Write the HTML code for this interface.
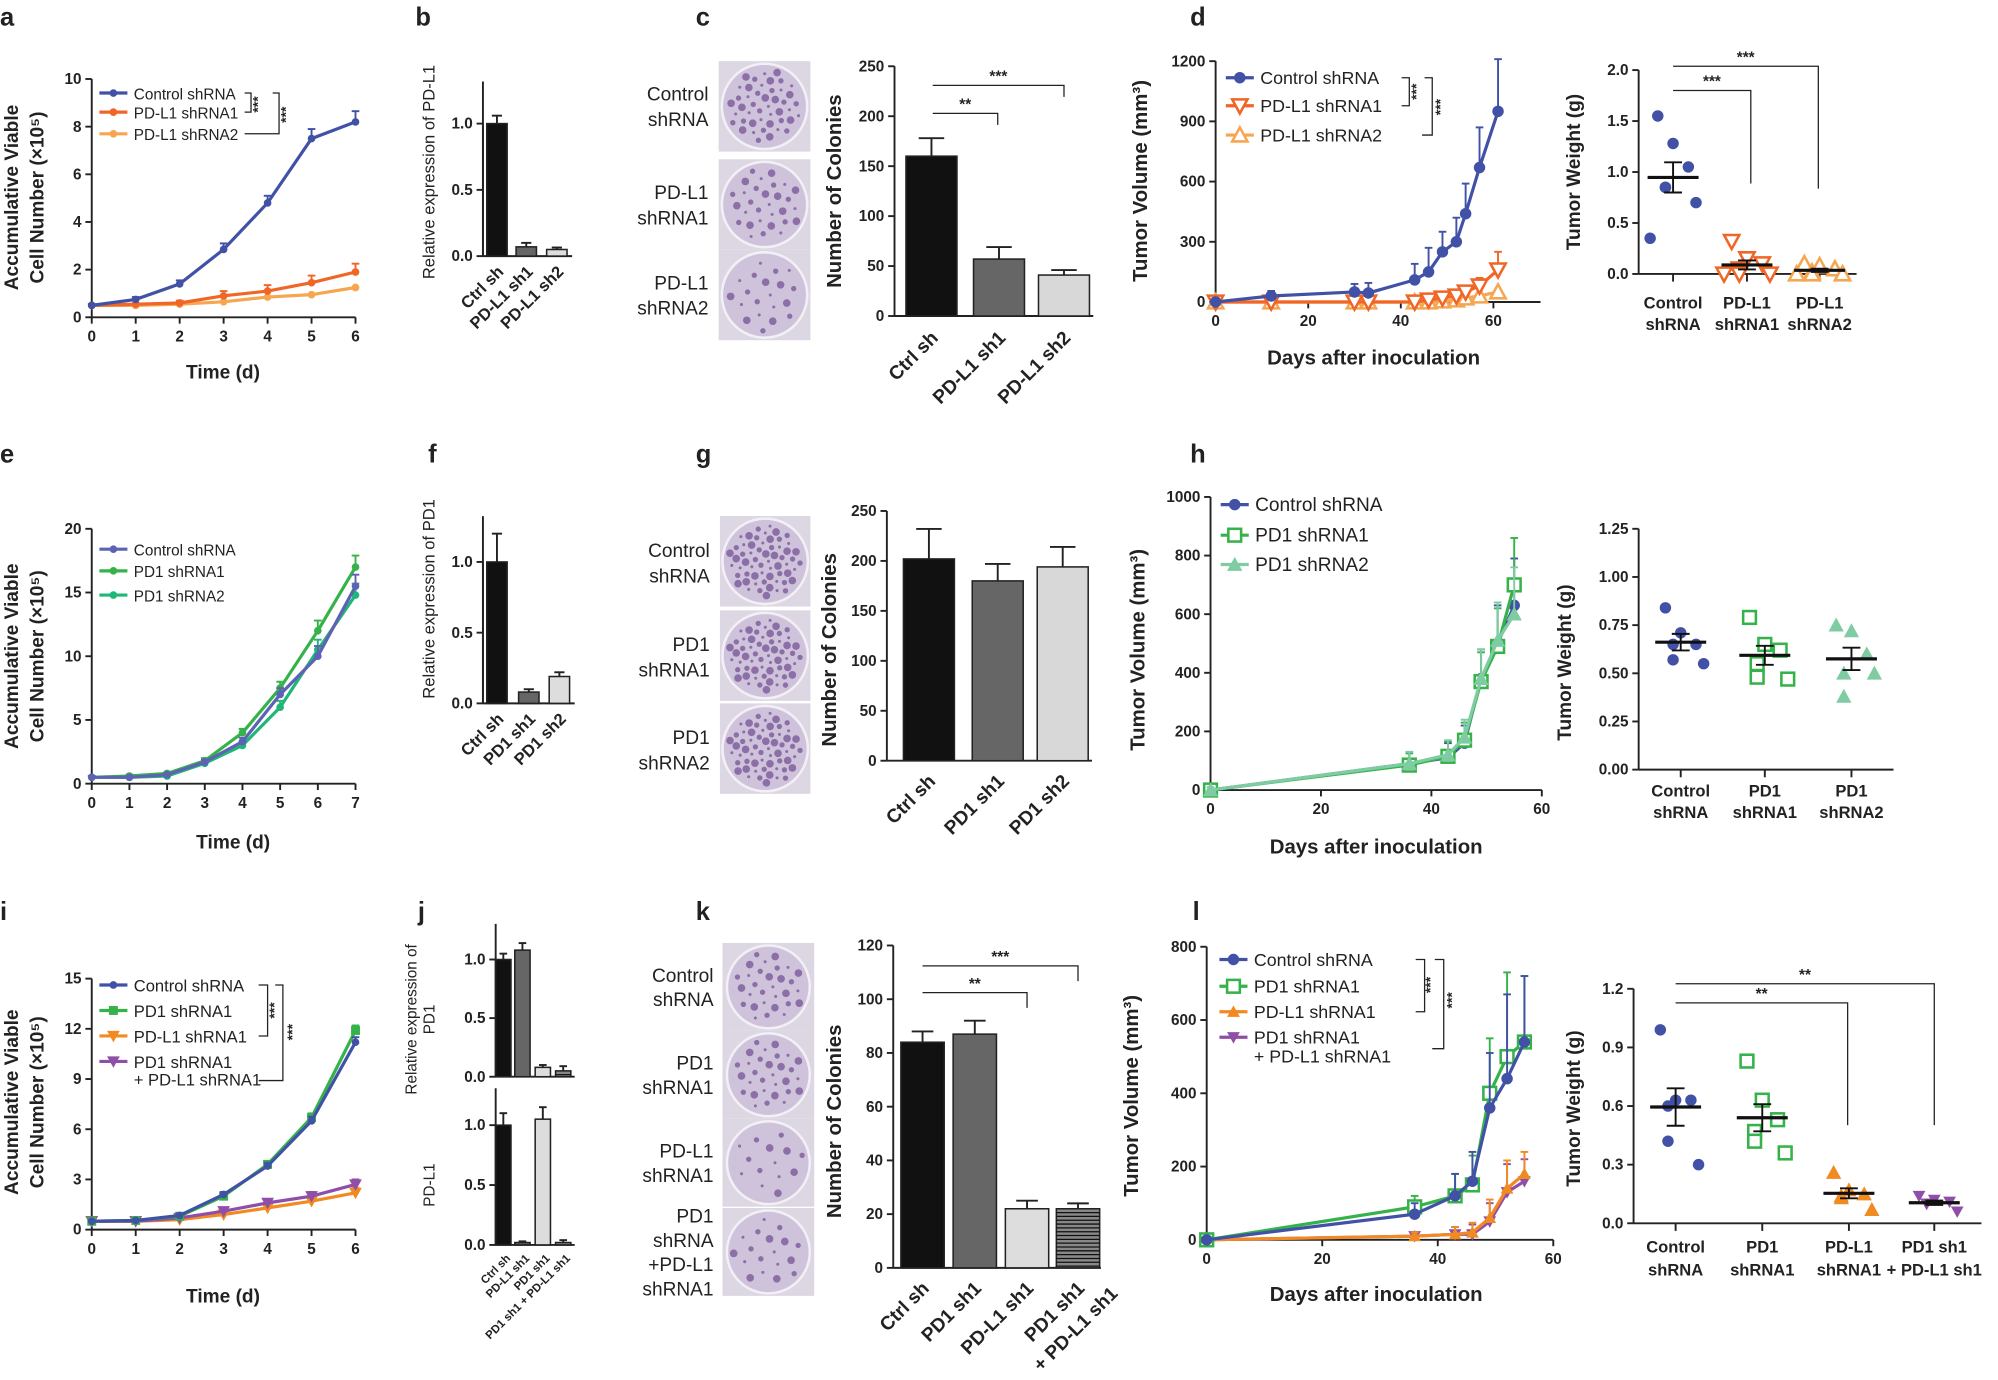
<!DOCTYPE html>
<html><head><meta charset="utf-8"><style>
html,body{margin:0;padding:0;background:#fff;}
svg{display:block;font-family:"Liberation Sans",Arial,sans-serif;}
</style></head><body>
<svg id="fig" width="1998" height="1380" viewBox="0 0 1568 1083" preserveAspectRatio="none" xmlns="http://www.w3.org/2000/svg"></svg>
<script>
// ---------- DATA ----------
const aDays=[0,1,2,3,4,5,6];
const aCtrl=[0.5,0.75,1.4,2.85,4.8,7.5,8.2];
const aCtrlErr=[0.05,0.1,0.15,0.25,0.3,0.4,0.45];
const aSh1=[0.5,0.55,0.6,0.9,1.1,1.45,1.9];
const aSh1Err=[0.05,0.05,0.1,0.2,0.25,0.3,0.35];
const aSh2=[0.5,0.5,0.55,0.65,0.85,0.95,1.25];
const bCats=["Ctrl sh","PD-L1 sh1","PD-L1 sh2"];
const bVals=[1.0,0.07,0.05];
const bErr=[0.06,0.03,0.015];
const cCats=["Ctrl sh","PD-L1 sh1","PD-L1 sh2"];
const cVals=[160,57,41];
const cErr=[18,12,5];
const dDays=[0,12,30,33,43,46,49,52,54,57,61];
const dCtrl=[0,30,50,45,110,150,250,300,440,670,950];
const dCtrlErr=[20,25,40,50,80,120,100,120,150,200,260];
const dSh1=[0,0,0,0,0,10,20,30,50,80,160];
const dSh1Err=[5,5,5,5,5,10,15,20,30,40,90];
const dSh2=[0,0,0,0,0,0,5,10,20,30,50];
const dWCats=[["Control","shRNA"],["PD-L1","shRNA1"],["PD-L1","shRNA2"]];
const dWCtrl=[1.55,1.28,1.05,0.85,0.85,0.7,0.35];
const dWSh1=[0.32,0.15,0.1,0.05,0,0,0];
const dWSh2=[0.1,0.08,0.05,0.02,0,0,0];
const eDays=[0,1,2,3,4,5,6,7];
const eCtrl=[0.5,0.5,0.7,1.7,3.3,7.0,10.0,15.5];
const eSh1=[0.5,0.6,0.8,1.8,4.0,7.5,12.0,17.0];
const eSh2=[0.5,0.5,0.6,1.6,3.0,6.0,10.5,14.8];
const fCats=["Ctrl sh","PD1 sh1","PD1 sh2"];
const fVals=[1.0,0.08,0.19];
const fErr=[0.2,0.02,0.03];
const gCats=["Ctrl sh","PD1 sh1","PD1 sh2"];
const gVals=[202,180,194];
const gErr=[30,17,20];
const hDays=[0,36,43,46,49,52,55];
const hCtrl=[0,90,110,160,380,500,630];
const hSh1=[0,85,115,170,370,490,700];
const hSh2=[0,90,120,180,380,510,600];
const hErr=[10,40,50,60,100,130,160];
const hWCats=[["Control","shRNA"],["PD1","shRNA1"],["PD1","shRNA2"]];
const hWCtrl=[0.84,0.71,0.65,0.65,0.57,0.55];
const hWSh1=[0.79,0.65,0.62,0.55,0.48,0.47];
const hWSh2=[0.75,0.72,0.6,0.5,0.38,0.5];
const iDays=[0,1,2,3,4,5,6];
const iCtrl=[0.5,0.55,0.85,2.1,3.8,6.5,11.2];
const iSh1=[0.5,0.55,0.8,2.0,3.9,6.7,11.9];
const iPdl1=[0.5,0.5,0.6,0.9,1.3,1.7,2.2];
const iCombo=[0.5,0.5,0.7,1.1,1.6,2.0,2.7];
const jCats=["Ctrl sh","PD-L1 sh1","PD1 sh1","PD1 sh1 + PD-L1 sh1"];
const jTop=[1.0,1.08,0.08,0.05];
const jTopErr=[0.05,0.06,0.02,0.04];
const jBot=[1.0,0.02,1.05,0.02];
const jBotErr=[0.1,0.01,0.1,0.02];
const kCats=["Ctrl sh","PD1 sh1","PD-L1 sh1","PD1 sh1 + PD-L1 sh1"];
const kVals=[84,87,22,22];
const kErr=[4,5,3,2];
const lDays=[0,36,43,46,49,52,55];
const lCtrl=[0,70,120,160,360,440,540];
const lSh1=[0,90,120,150,400,500,540];
const lPdl1=[0,10,15,20,60,140,180];
const lCombo=[0,10,15,15,50,130,160];
const lErr=[5,30,60,80,150,230,180];
const lWCats=[["Control","shRNA"],["PD1","shRNA1"],["PD-L1","shRNA1"],["PD1 sh1","+ PD-L1 sh1"]];
const lWCtrl=[0.99,0.63,0.63,0.6,0.42,0.3];
const lWSh1=[0.83,0.63,0.53,0.47,0.42,0.36];
const lWPdl1=[0.26,0.17,0.15,0.14,0.13,0.07];
const lWCombo=[0.14,0.12,0.11,0.1,0.1,0.06];

// ---------- HELPERS ----------
const NS='http://www.w3.org/2000/svg';
const svg=document.getElementById('fig');
function E(p,tag,at,name){const e=document.createElementNS(NS,tag);for(const k in at)e.setAttribute(k,at[k]);


p.appendChild(e);return e;}
function G(name){return E(svg,'g',{},name);}
function T(p,x,y,s,name,o){o=o||{};const at={x:x,y:y,'font-size':o.fs||13,'font-weight':o.fw||'bold','text-anchor':o.a||'middle',fill:o.fill||'#222'};if(o.tr)at.transform=o.tr;const e=E(p,'text',at,name);e.textContent=s;return e;}
function lin(d0,d1,r0,r1){return v=>r0+(v-d0)*(r1-r0)/(d1-d0);}
function L(p,x1,y1,x2,y2,name,c,w){return E(p,'line',{x1:x1,y1:y1,x2:x2,y2:y2,stroke:c||'#222','stroke-width':w||1.5},name);}
function yAxis(g,x,sc,ticks,fmt,name){L(g,x,sc(ticks[0]),x,sc(ticks[ticks.length-1]),name+'-line');ticks.forEach(t=>{L(g,x-5,sc(t),x,sc(t),name+'-tick');T(g,x-8,sc(t)+4,fmt(t),name+'-label',{a:'end',fs:12});});}
function xAxis(g,y,sc,ticks,fmt,name){L(g,sc(ticks[0]),y,sc(ticks[ticks.length-1]),y,name+'-line');ticks.forEach(t=>{L(g,sc(t),y,sc(t),y+5,name+'-tick');if(fmt)T(g,sc(t),y+19,fmt(t),name+'-label',{fs:12});});}
function marker(g,x,y,type,c,name){
 if(type==='c')E(g,'circle',{cx:x,cy:y,r:4.5,fill:c},name);
 else if(type==='cs')E(g,'circle',{cx:x,cy:y,r:3,fill:c},name);
 else if(type==='so')E(g,'rect',{x:x-5,y:y-5,width:10,height:10,fill:'#fff',stroke:c,'stroke-width':2},name);
 else if(type==='sf')E(g,'rect',{x:x-3.5,y:y-3.5,width:7,height:7,fill:c},name);
 else if(type==='tdo')E(g,'polygon',{points:`${x-6},${y-5} ${x+6},${y-5} ${x},${y+6}`,fill:'#fff',stroke:c,'stroke-width':2},name);
 else if(type==='tuo')E(g,'polygon',{points:`${x-6},${y+5} ${x+6},${y+5} ${x},${y-6}`,fill:'#fff',stroke:c,'stroke-width':2},name);
 else if(type==='tu')E(g,'polygon',{points:`${x-5},${y+4} ${x+5},${y+4} ${x},${y-5}`,fill:c},name);
 else if(type==='tub')E(g,'polygon',{points:`${x-6},${y+5} ${x+6},${y+5} ${x},${y-6}`,fill:c},name);
 else if(type==='td')E(g,'polygon',{points:`${x-5},${y-4} ${x+5},${y-4} ${x},${y+5}`,fill:c},name);
}
function series(g,sx,sy,xs,ys,errs,c,m,name,w){
 const s=E(g,'g',{},name);
 if(errs)xs.forEach((x,i)=>{const y0=sy(ys[i]),y1=sy(ys[i]+errs[i]);L(s,sx(x),y0,sx(x),y1,name+'-errbar',c,1.5);L(s,sx(x)-3,y1,sx(x)+3,y1,name+'-errcap',c,1.5);});
 E(s,'polyline',{points:xs.map((x,i)=>sx(x)+','+sy(ys[i])).join(' '),fill:'none',stroke:c,'stroke-width':w||2.5},name+'-line');
 xs.forEach((x,i)=>marker(s,sx(x),sy(ys[i]),m,c,name+'-point'));
}
function bars(g,sx,sy,vals,errs,fills,w,name){
 vals.forEach((v,i)=>{const cx=sx(i),y=sy(v),y0=sy(0);
  E(g,'rect',{x:cx-w/2,y:y,width:w,height:y0-y,fill:fills[i]==='hatch'?'#888':fills[i],stroke:'#222','stroke-width':1.2},name+'-bar');
  if(fills[i]==='hatch'){for(let k=y+3;k<y0;k+=3)L(g,cx-w/2,k,cx+w/2,k,name+'-hatch','#111',1);}
  const ye=sy(v+errs[i]);L(g,cx,y,cx,ye,name+'-errbar');L(g,cx-w/4,ye,cx+w/4,ye,name+'-errcap');});
}
function rotLabels(g,sx,y,cats,name,fs){cats.forEach((c,i)=>{const x=sx(i)+6,yy=y;T(g,x,yy,c,name,{a:'end',fs:fs||14,tr:`rotate(-45 ${x} ${yy})`});});}
function bracket(g,x1,x2,y,d1,d2,star,name){E(g,'polyline',{points:`${x1},${y+d1} ${x1},${y} ${x2},${y} ${x2},${y+d2}`,fill:'none',stroke:'#222','stroke-width':1},name);T(g,(x1+x2)/2,y-3,star,name+'-stars',{fs:12});}
function scatter(g,cx,sy,vals,c,m,name){const n=vals.length;vals.forEach((v,i)=>{const off=((i%3)-1)*12+(i>=3?6:0)*((i%2)?1:-1);marker(g,cx+off,sy(v),m,c,name+'-point');});
 const mean=vals.reduce((a,b)=>a+b,0)/n;const sd=Math.sqrt(vals.reduce((a,b)=>a+(b-mean)*(b-mean),0)/(n-1));const sem=sd/Math.sqrt(n);
 L(g,cx-20,sy(mean),cx+20,sy(mean),name+'-mean','#111',2.5);L(g,cx,sy(mean-sem),cx,sy(mean+sem),name+'-sem','#111',1.5);
 L(g,cx-7,sy(mean-sem),cx+7,sy(mean-sem),name+'-semcap','#111',1.5);L(g,cx-7,sy(mean+sem),cx+7,sy(mean+sem),name+'-semcap','#111',1.5);}
function plate(g,x,y,w,h,dense,name){E(g,'rect',{x:x,y:y,width:w,height:h,fill:'#dcd7e2'},name+'-bg');
 const cx=x+w/2,cy=y+h/2,r=Math.min(w,h)/2-2;
 E(g,'circle',{cx:cx,cy:cy,r:r,fill:'#cfc3dc',stroke:'#f2eff5','stroke-width':2},name);
 for(let k=0;k<dense;k++){const a=k*2.39996,rr=r*0.85*Math.sqrt((k+0.5)/dense);
  E(g,'circle',{cx:cx+rr*Math.cos(a),cy:cy+rr*Math.sin(a),r:1.2+(k%3)*0.9,fill:'#7a5a9a','fill-opacity':0.8},name+'-colony');}}
function legendEntry(g,x,y,c,m,label,name,fs){L(g,x,y,x+22,y,name+'-line',c,2.5);marker(g,x+11,y,m,c,name+'-marker');T(g,x+27,y+5,label,name+'-text',{a:'start',fw:'normal',fs:fs||13});}
function panelLabel(x,y,s){T(svg,x,y,s,'panel-label-'+s,{fs:20,a:'start'});}
const BLUE='#4152a6',OR='#ef6626',LOR='#f6a650',GRN='#36b24a',TEAL='#1fb777',LTEAL='#7fcca2',OR2='#f28a22',PUR='#8f4fa8';
const f1=v=>v.toFixed(1),f0=v=>String(v),f2=v=>v.toFixed(2);

// ---------- PANEL A ----------
panelLabel(0,20,'a');
{const g=G('panel-a');const sx=lin(0,6,72,279),sy=lin(0,10,249,62);
 yAxis(g,72,sy,[0,2,4,6,8,10],f0,'a-y-axis');xAxis(g,249,sx,aDays,f0,'a-x-axis');
 T(g,14,155,'Accumulative Viable','a-y-title',{fs:15,tr:'rotate(-90 14 155)'});
 T(g,34,155,'Cell Number (×10⁵)','a-y-title',{fs:15,tr:'rotate(-90 34 155)'});
 T(g,175,297,'Time (d)','a-x-title',{fs:15});
 series(g,sx,sy,aDays,aSh2,null,LOR,'cs','a-series-sh2');
 series(g,sx,sy,aDays,aSh1,aSh1Err,OR,'cs','a-series-sh1');
 series(g,sx,sy,aDays,aCtrl,aCtrlErr,BLUE,'cs','a-series-control');
 legendEntry(g,78,73,BLUE,'cs','Control shRNA','a-legend-control',12);
 legendEntry(g,78,88,OR,'cs','PD-L1 shRNA1','a-legend-sh1',12);
 legendEntry(g,78,105,LOR,'cs','PD-L1 shRNA2','a-legend-sh2',12);
 E(g,'polyline',{points:'192,73 197,73 197,88 192,88',fill:'none',stroke:'#222','stroke-width':1},'a-sig-bracket');
 E(g,'polyline',{points:'192,105 219,105 219,73 214,73',fill:'none',stroke:'#222','stroke-width':1},'a-sig-bracket');
 T(g,206,82,'***','a-sig-stars',{fs:11,tr:'rotate(-90 206 82)'});T(g,228,90,'***','a-sig-stars',{fs:11,tr:'rotate(-90 228 90)'});}

// ---------- PANEL B ----------
panelLabel(326,20,'b');
{const g=G('panel-b');const sy=lin(0,1,201,97),sx=i=>[390,413,437][i];
 yAxis(g,379,sy,[0,0.5,1.0],f1,'b-y-axis');L(g,379,201,449,201,'b-x-axis');
 L(g,379,201,379,64,'b-y-axis-ext');
 bars(g,sx,sy,bVals,bErr,['#111','#666','#ddd'],16,'b');
 rotLabels(g,sx,214,bCats,'b-x-label',13);
 T(g,341,135,'Relative expression of PD-L1','b-y-title',{fs:13,fw:'normal',tr:'rotate(-90 341 135)'});}

// ---------- PANEL C ----------
panelLabel(546,20,'c');
{const g=G('panel-c');[[48,'Control','shRNA',45],[125,'PD-L1','shRNA1',30],[196,'PD-L1','shRNA2',20]].forEach(r=>{plate(g,564,r[0],72,71,r[3],'c-colony-plate');T(g,556,r[0]+31,r[1],'c-plate-label',{a:'end',fw:'normal',fs:15});T(g,556,r[0]+51,r[2],'c-plate-label',{a:'end',fw:'normal',fs:15});});
 const sy=lin(0,250,248,52),sx=i=>[731,784,835][i];
 yAxis(g,702,sy,[0,50,100,150,200,250],f0,'c-y-axis');L(g,702,248,858,248,'c-x-axis');
 bars(g,sx,sy,cVals,cErr,['#111','#666','#d8d8d8'],40,'c');
 rotLabels(g,sx,266,cCats,'c-x-label',15);
 T(g,660,150,'Number of Colonies','c-y-title',{fs:16,tr:'rotate(-90 660 150)'});
 bracket(g,732,783,89,0,9,'**','c-sig');bracket(g,732,835,67,0,9,'***','c-sig');}

// ---------- PANEL D ----------
panelLabel(934,20,'d');
{const g=G('panel-d');const sx=lin(0,60,954,1172),sy=lin(0,1200,237,48);
 yAxis(g,954,sy,[0,300,600,900,1200],f0,'d-y-axis');xAxis(g,237,sx,[0,20,40,60],f0,'d-x-axis');L(g,1172,237,1209,237,'d-x-axis-ext');
 T(g,900,142,'Tumor Volume (mm³)','d-y-title',{fs:16,tr:'rotate(-90 900 142)'});
 T(g,1078,286,'Days after inoculation','d-x-title',{fs:16});
 series(g,sx,sy,dDays,dSh2,null,LOR,'tuo','d-series-sh2');
 series(g,sx,sy,dDays,dSh1,dSh1Err,OR,'tdo','d-series-sh1');
 series(g,sx,sy,dDays,dCtrl,dCtrlErr,BLUE,'c','d-series-control');
 legendEntry(g,962,61,BLUE,'c','Control shRNA','d-legend-control',14);
 legendEntry(g,962,83,OR,'tdo','PD-L1 shRNA1','d-legend-sh1',14);
 legendEntry(g,962,106,LOR,'tuo','PD-L1 shRNA2','d-legend-sh2',14);
 E(g,'polyline',{points:'1100,61 1106,61 1106,83 1100,83',fill:'none',stroke:'#222','stroke-width':1},'d-sig-bracket');
 E(g,'polyline',{points:'1116,106 1124,106 1124,61 1118,61',fill:'none',stroke:'#222','stroke-width':1},'d-sig-bracket');
 T(g,1115,72,'***','d-sig-stars',{fs:11,tr:'rotate(-90 1115 72)'});T(g,1134,84,'***','d-sig-stars',{fs:11,tr:'rotate(-90 1134 84)'});}
{const g=G('panel-d-weight');const sy=lin(0,2,215,55),sx=i=>[1313,1371,1428][i];
 yAxis(g,1286,sy,[0,0.5,1.0,1.5,2.0],f1,'dw-y-axis');L(g,1286,215,1457,215,'dw-x-axis');
 [0,1,2].forEach(i=>L(g,sx(i),215,sx(i),221,'dw-x-tick'));
 T(g,1240,135,'Tumor Weight (g)','dw-y-title',{fs:15,tr:'rotate(-90 1240 135)'});
 scatter(g,sx(0),sy,dWCtrl,BLUE,'c','dw-control');scatter(g,sx(1),sy,dWSh1,OR,'tdo','dw-sh1');scatter(g,sx(2),sy,dWSh2,LOR,'tuo','dw-sh2');
 dWCats.forEach((c,i)=>{T(g,sx(i),242,c[0],'dw-x-label',{fs:13});T(g,sx(i),259,c[1],'dw-x-label',{fs:13});});
 bracket(g,1313,1374,71,0,73,'***','dw-sig');bracket(g,1313,1427,52,0,96,'***','dw-sig');}

// ---------- PANEL E ----------
panelLabel(0,363,'e');
{const g=G('panel-e');const sx=lin(0,7,72,279),sy=lin(0,20,615,415);
 yAxis(g,72,sy,[0,5,10,15,20],f0,'e-y-axis');xAxis(g,615,sx,eDays,f0,'e-x-axis');
 T(g,14,515,'Accumulative Viable','e-y-title',{fs:15,tr:'rotate(-90 14 515)'});
 T(g,34,515,'Cell Number (×10⁵)','e-y-title',{fs:15,tr:'rotate(-90 34 515)'});
 T(g,183,666,'Time (d)','e-x-title',{fs:15});
 const er=[0.1,0.1,0.1,0.2,0.3,0.5,0.8,0.9];
 series(g,sx,sy,eDays,eSh2,er,TEAL,'cs','e-series-sh2');
 series(g,sx,sy,eDays,eSh1,er,GRN,'cs','e-series-sh1');
 series(g,sx,sy,eDays,eCtrl,er,'#5d62b5','cs','e-series-control');
 legendEntry(g,78,431,'#5d62b5','cs','Control shRNA','e-legend-control',12);
 legendEntry(g,78,448,GRN,'cs','PD1 shRNA1','e-legend-sh1',12);
 legendEntry(g,78,467,TEAL,'cs','PD1 shRNA2','e-legend-sh2',12);}

// ---------- PANEL F ----------
panelLabel(336,363,'f');
{const g=G('panel-f');const sy=lin(0,1,552,441),sx=i=>[390,415,439][i];
 yAxis(g,379,sy,[0,0.5,1.0],f1,'f-y-axis');L(g,379,552,379,405,'f-y-axis-ext');L(g,379,552,451,552,'f-x-axis');
 bars(g,sx,sy,fVals,fErr,['#111','#666','#ddd'],16,'f');
 rotLabels(g,sx,565,fCats,'f-x-label',13);
 T(g,341,470,'Relative expression of PD1','f-y-title',{fs:13,fw:'normal',tr:'rotate(-90 341 470)'});}

// ---------- PANEL G ----------
panelLabel(546,363,'g');
{const g=G('panel-g');[[405,'Control','shRNA',60],[479,'PD1','shRNA1',60],[552,'PD1','shRNA2',60]].forEach(r=>{plate(g,565,r[0],71,71,r[3],'g-colony-plate');T(g,557,r[0]+32,r[1],'g-plate-label',{a:'end',fw:'normal',fs:15});T(g,557,r[0]+52,r[2],'g-plate-label',{a:'end',fw:'normal',fs:15});});
 const sy=lin(0,250,597,401),sx=i=>[729,783,834][i];
 yAxis(g,696,sy,[0,50,100,150,200,250],f0,'g-y-axis');L(g,696,597,857,597,'g-x-axis');
 bars(g,sx,sy,gVals,gErr,['#111','#666','#d8d8d8'],40,'g');
 rotLabels(g,sx,614,gCats,'g-x-label',15);
 T(g,656,510,'Number of Colonies','g-y-title',{fs:16,tr:'rotate(-90 656 510)'});}

// ---------- PANEL H ----------
panelLabel(934,363,'h');
{const g=G('panel-h');const sx=lin(0,60,950,1210),sy=lin(0,1000,620,390);
 yAxis(g,950,sy,[0,200,400,600,800,1000],f0,'h-y-axis');xAxis(g,620,sx,[0,20,40,60],f0,'h-x-axis');
 T(g,898,510,'Tumor Volume (mm³)','h-y-title',{fs:16,tr:'rotate(-90 898 510)'});
 T(g,1080,670,'Days after inoculation','h-x-title',{fs:16});
 series(g,sx,sy,hDays,hCtrl,hErr,BLUE,'c','h-series-control');
 series(g,sx,sy,hDays,hSh1,hErr,GRN,'so','h-series-sh1');
 series(g,sx,sy,hDays,hSh2,hErr,LTEAL,'tub','h-series-sh2');
 legendEntry(g,958,396,BLUE,'c','Control shRNA','h-legend-control',15);
 legendEntry(g,958,420,GRN,'so','PD1 shRNA1','h-legend-sh1',15);
 legendEntry(g,958,443,LTEAL,'tub','PD1 shRNA2','h-legend-sh2',15);}
{const g=G('panel-h-weight');const sy=lin(0,1.25,604,415),sx=i=>[1319,1385,1453][i];
 yAxis(g,1286,sy,[0,0.25,0.5,0.75,1.0,1.25],f2,'hw-y-axis');L(g,1286,604,1486,604,'hw-x-axis');
 [0,1,2].forEach(i=>L(g,sx(i),604,sx(i),610,'hw-x-tick'));
 T(g,1233,520,'Tumor Weight (g)','hw-y-title',{fs:15,tr:'rotate(-90 1233 520)'});
 scatter(g,sx(0),sy,hWCtrl,BLUE,'c','hw-control');scatter(g,sx(1),sy,hWSh1,GRN,'so','hw-sh1');scatter(g,sx(2),sy,hWSh2,LTEAL,'tub','hw-sh2');
 hWCats.forEach((c,i)=>{T(g,sx(i),625,c[0],'hw-x-label',{fs:13});T(g,sx(i),642,c[1],'hw-x-label',{fs:13});});}

// ---------- PANEL I ----------
panelLabel(0,722,'i');
{const g=G('panel-i');const sx=lin(0,6,72,279),sy=lin(0,15,965,768);
 yAxis(g,72,sy,[0,3,6,9,12,15],f0,'i-y-axis');xAxis(g,965,sx,iDays,f0,'i-x-axis');
 T(g,14,865,'Accumulative Viable','i-y-title',{fs:15,tr:'rotate(-90 14 865)'});
 T(g,34,865,'Cell Number (×10⁵)','i-y-title',{fs:15,tr:'rotate(-90 34 865)'});
 T(g,175,1022,'Time (d)','i-x-title',{fs:15});
 const er=[0.05,0.05,0.1,0.15,0.2,0.25,0.3];
 series(g,sx,sy,iDays,iPdl1,er,OR2,'td','i-series-pdl1');
 series(g,sx,sy,iDays,iCombo,er,PUR,'td','i-series-combo');
 series(g,sx,sy,iDays,iSh1,er,GRN,'sf','i-series-pd1');
 series(g,sx,sy,iDays,iCtrl,er,BLUE,'cs','i-series-control');
 legendEntry(g,78,773,BLUE,'cs','Control shRNA','i-legend-control',13);
 legendEntry(g,78,793,GRN,'sf','PD1 shRNA1','i-legend-pd1',13);
 legendEntry(g,78,813,OR2,'td','PD-L1 shRNA1','i-legend-pdl1',13);
 legendEntry(g,78,833,PUR,'td','PD1 shRNA1','i-legend-combo',13);
 T(g,105,852,'+ PD-L1 shRNA1','i-legend-combo-text2',{a:'start',fw:'normal',fs:13});
 E(g,'polyline',{points:'203,773 210,773 210,813 203,813',fill:'none',stroke:'#222','stroke-width':1},'i-sig-bracket');
 E(g,'polyline',{points:'203,848 222,848 222,773 216,773',fill:'none',stroke:'#222','stroke-width':1},'i-sig-bracket');
 T(g,219,793,'***','i-sig-stars',{fs:11,tr:'rotate(-90 219 793)'});T(g,233,810,'***','i-sig-stars',{fs:11,tr:'rotate(-90 233 810)'});}

// ---------- PANEL J ----------
panelLabel(328,722,'j');
{const g=G('panel-j');const sx=i=>[395,410,426,442][i];
 const syT=lin(0,1,845,753),syB=lin(0,1,977,883);
 yAxis(g,389,syT,[0,0.5,1.0],f1,'j-top-y-axis');L(g,389,845,389,725,'j-top-y-ext');L(g,389,845,451,845,'j-top-x-axis');
 yAxis(g,389,syB,[0,0.5,1.0],f1,'j-bot-y-axis');L(g,389,977,389,854,'j-bot-y-ext');L(g,389,977,451,977,'j-bot-x-axis');
 bars(g,sx,syT,jTop,jTopErr,['#111','#666','#ddd','hatch'],12,'j-top');
 bars(g,sx,syB,jBot,jBotErr,['#111','#666','#ddd','hatch'],12,'j-bot');
 rotLabels(g,sx,988,jCats,'j-x-label',9);
 T(g,327,800,'Relative expression of','j-y-title',{fs:12,fw:'normal',tr:'rotate(-90 327 800)'});
 T(g,341,800,'PD1','j-y-title',{fs:12,fw:'normal',tr:'rotate(-90 341 800)'});
 T(g,341,930,'PD-L1','j-y-title',{fs:12,fw:'normal',tr:'rotate(-90 341 930)'});}

// ---------- PANEL K ----------
panelLabel(546,722,'k');
{const g=G('panel-k');[[740,['Control','shRNA'],30],[809,['PD1','shRNA1'],30],[878,['PD-L1','shRNA1'],14],[948,['PD1','shRNA','+PD-L1','shRNA1'],18]].forEach(r=>{plate(g,567,r[0],72,69,r[2],'k-colony-plate');const n=r[1].length;r[1].forEach((s,j)=>T(g,560,r[0]+40+(j-(n-1)/2)*19,s,'k-plate-label',{a:'end',fw:'normal',fs:15}));});
 const sy=lin(0,120,995,742),sx=i=>[724,765,806,846][i];
 yAxis(g,701,sy,[0,20,40,60,80,100,120],f0,'k-y-axis');L(g,701,995,864,995,'k-x-axis');
 bars(g,sx,sy,kVals,kErr,['#111','#666','#ddd','hatch'],34,'k');
 rotLabels(g,sx,1012,['Ctrl sh','PD1 sh1','PD-L1 sh1','PD1 sh1'],'k-x-label',15);
 T(g,878,1016,'+ PD-L1 sh1','k-x-label-2',{a:'end',fs:15,tr:'rotate(-45 878 1016)'});
 T(g,660,880,'Number of Colonies','k-y-title',{fs:16,tr:'rotate(-90 660 880)'});
 bracket(g,724,806,779,0,12,'**','k-sig');bracket(g,724,846,758,0,12,'***','k-sig');}

// ---------- PANEL L ----------
panelLabel(936,722,'l');
{const g=G('panel-l');const sx=lin(0,60,947,1219),sy=lin(0,800,973,743);
 yAxis(g,947,sy,[0,200,400,600,800],f0,'l-y-axis');xAxis(g,973,sx,[0,20,40,60],f0,'l-x-axis');
 T(g,893,860,'Tumor Volume (mm³)','l-y-title',{fs:16,tr:'rotate(-90 893 860)'});
 T(g,1080,1021,'Days after inoculation','l-x-title',{fs:16});
 series(g,sx,sy,lDays,lCombo,lErr.map(v=>v/3),PUR,'td','l-series-combo');
 series(g,sx,sy,lDays,lPdl1,lErr.map(v=>v/3),OR2,'tu','l-series-pdl1');
 series(g,sx,sy,lDays,lSh1,lErr,GRN,'so','l-series-pd1');
 series(g,sx,sy,lDays,lCtrl,lErr,BLUE,'c','l-series-control');
 legendEntry(g,957,753,BLUE,'c','Control shRNA','l-legend-control',14);
 legendEntry(g,957,774,GRN,'so','PD1 shRNA1','l-legend-pd1',14);
 legendEntry(g,957,794,OR2,'tu','PD-L1 shRNA1','l-legend-pdl1',14);
 legendEntry(g,957,814,PUR,'td','PD1 shRNA1','l-legend-combo',14);
 T(g,984,834,'+ PD-L1 shRNA1','l-legend-combo-text2',{a:'start',fw:'normal',fs:14});
 E(g,'polyline',{points:'1111,753 1118,753 1118,794 1111,794',fill:'none',stroke:'#222','stroke-width':1},'l-sig-bracket');
 E(g,'polyline',{points:'1124,823 1133,823 1133,753 1126,753',fill:'none',stroke:'#222','stroke-width':1},'l-sig-bracket');
 T(g,1126,773,'***','l-sig-stars',{fs:11,tr:'rotate(-90 1126 773)'});T(g,1143,785,'***','l-sig-stars',{fs:11,tr:'rotate(-90 1143 785)'});}
{const g=G('panel-l-weight');const sy=lin(0,1.2,960,776),sx=i=>[1315,1383,1451,1518][i];
 yAxis(g,1282,sy,[0,0.3,0.6,0.9,1.2],f1,'lw-y-axis');L(g,1282,960,1555,960,'lw-x-axis');
 [0,1,2,3].forEach(i=>L(g,sx(i),960,sx(i),966,'lw-x-tick'));
 T(g,1240,870,'Tumor Weight (g)','lw-y-title',{fs:15,tr:'rotate(-90 1240 870)'});
 scatter(g,sx(0),sy,lWCtrl,BLUE,'c','lw-control');scatter(g,sx(1),sy,lWSh1,GRN,'so','lw-pd1');
 scatter(g,sx(2),sy,lWPdl1,OR2,'tub','lw-pdl1');scatter(g,sx(3),sy,lWCombo,PUR,'td','lw-combo');
 lWCats.forEach((c,i)=>{T(g,sx(i),983,c[0],'lw-x-label',{fs:13});T(g,sx(i),1001,c[1],'lw-x-label',{fs:13});});
 bracket(g,1315,1450,787,0,96,'**','lw-sig');bracket(g,1315,1518,772,0,111,'**','lw-sig');}
</script>
</body></html>
